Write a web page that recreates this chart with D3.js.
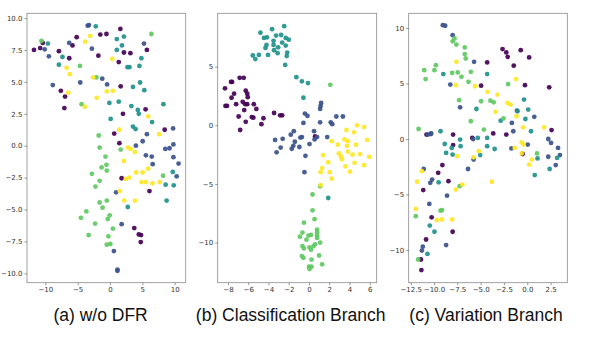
<!DOCTYPE html>
<html>
<head>
<meta charset="utf-8">
<script src="https://cdn.jsdelivr.net/npm/d3@7"></script>
<style>
  body { margin: 0; background: #fff; }
  .tick text { font-family: "DejaVu Sans", sans-serif; font-size: 7px; fill: #333; }
  .title { font-family: "Liberation Sans", Arial, sans-serif; font-size: 17.5px; fill: #111; }
</style>
</head>
<body>
<svg id="chart"></svg>
<script>
// class colours (viridis, 5 classes)
const classColors = ["#440154", "#3b528b", "#21918c", "#5ec962", "#fde725"];

// ---- (a) w/o DFR ----
const aPurple = [[-11.75,7.5],[-10.8,7.65],[-10.4,8.05],[-7.9,7.4],[-6.3,6.85],[-5.8,7.85],[-5.15,8.5],[-1.8,7.05],[-1.5,8.7],[-0.55,8.75],[1.6,9.15],[1.35,6.55],[2.15,7.3],[3.15,7.25],[5.7,7.5],[-7.6,4.3],[-6.95,3.85],[-7.05,2.95],[1.65,4.65],[2.0,2.5],[5.5,2.85],[0.65,0.95],[1.45,0.2],[8.45,1.25],[1.8,-2.55],[6.1,-3.55],[3.75,-6.45],[4.45,-6.95],[4.8,-7.0],[4.75,-7.55]];
const aBlue = [[-10.1,7.55],[-9.45,7.0],[-6.3,8.05],[-3.45,9.4],[-3.25,9.45],[-2.8,7.6],[-8.85,4.75],[-4.6,4.95],[-1.2,5.25],[-0.45,4.8],[5.25,8.0],[5.7,0.9],[5.05,0.35],[4.0,0.0],[5.55,-0.75],[6.45,-0.85],[6.6,-1.45],[8.55,-0.25],[9.2,-0.2],[9.75,1.35],[9.8,0.1],[9.8,-0.9],[10.6,-1.4],[10.3,-2.4],[0.95,-3.65],[1.8,-6.15],[0.6,-8.25],[1.15,-9.7],[1.15,-9.8]];
const aTeal = [[-9.6,8.0],[-7.9,6.35],[-7.35,6.95],[-2.2,9.35],[1.05,8.35],[2.15,8.55],[1.85,7.85],[1.05,7.5],[2.7,6.15],[3.0,6.15],[4.55,6.25],[4.85,6.85],[4.65,4.95],[3.55,4.6],[5.3,4.35],[-0.1,3.35],[1.35,3.45],[3.3,3.1],[4.3,2.8],[4.45,2.5],[0.1,2.1],[3.55,1.5],[3.95,1.3],[6.5,1.85],[8.25,3.25],[9.7,-2.05],[9.85,-3.1],[8.6,-3.05],[8.75,-4.3],[2.75,-4.8]];
const aGreen = [[-10.6,8.2],[-4.65,6.25],[-2.1,5.35],[-4.4,3.25],[-1.75,0.8],[-1.6,-0.15],[1.65,-0.3],[-0.7,-0.85],[-1.3,-1.7],[-0.55,-1.5],[-0.5,-1.95],[-2.8,-2.2],[-1.6,-2.75],[-2.25,-3.2],[-0.5,-4.3],[-1.6,-4.45],[-1.15,-4.85],[-3.65,-5.15],[-4.5,-5.65],[-0.05,-5.45],[-0.35,-5.75],[-2.3,-6.1],[0.45,-6.5],[-3.3,-7.0],[-0.25,-7.1],[0.05,-7.7],[-0.5,-7.75],[6.4,8.75],[8.2,-2.35]];
const aYellow = [[-3.05,8.6],[-3.85,8.15],[0.35,6.8],[-6.7,6.1],[-6.2,5.6],[-2.6,5.35],[-0.5,4.25],[0.45,4.3],[-6.45,4.15],[-2.05,3.75],[-3.9,3.05],[5.9,2.3],[7.6,0.9],[1.45,1.25],[2.75,-0.15],[3.2,-0.25],[3.85,-0.5],[2.15,-1.2],[5.9,-1.8],[4.05,-2.1],[5.05,-2.1],[2.45,-2.6],[3.0,-2.5],[4.85,-2.85],[5.55,-2.85],[6.55,-2.95],[7.7,-2.85],[1.5,-3.55],[2.2,-4.3],[3.85,-4.3]];

// ---- (b) Classification Branch ----
const bPurple = [[-7.6,3.7],[-7.7,3.7],[-6.85,4.05],[-6.45,4.05],[-8.3,3.15],[-7.4,2.7],[-7.65,2.35],[-6.25,2.95],[-6.1,2.7],[-6.05,2.4],[-7.2,1.8],[-8.25,1.65],[-8.1,1.65],[-6.55,2.0],[-6.3,1.8],[-6.1,1.8],[-5.45,1.8],[-6.4,1.3],[-5.2,1.4],[-6.95,0.75],[-5.65,0.7],[-5.5,0.65],[-4.5,0.6],[-6.25,0.3],[-4.7,0.1],[-6.8,-0.4],[-3.45,1.05],[-2.85,0.85],[-2.65,0.85],[0.6,-0.95]];
const bBlue = [[1.2,1.9],[1.15,1.65],[1.1,1.4],[-0.4,1.0],[-0.15,0.8],[2.7,0.75],[3.35,0.75],[-0.55,0.2],[1.1,0.25],[2.15,0.25],[2.3,0.1],[-1.5,-0.5],[-1.8,-0.8],[0.5,-0.5],[-2.6,-1.15],[-3.35,-1.25],[-0.85,-1.05],[-0.7,-1.0],[0.55,-1.2],[0.8,-1.0],[1.8,-1.0],[-1.4,-1.4],[0.05,-1.6],[-1.55,-1.75],[-1.7,-2.0],[-2.8,-1.9],[-0.95,-1.85],[-3.2,-2.3],[-0.35,-2.6],[-0.45,-4.0]];
const bTeal = [[-4.8,7.9],[-3.65,8.2],[-2.45,8.45],[-4.45,7.45],[-4.15,7.5],[-3.25,7.65],[-2.75,7.7],[-2.3,7.45],[-2.0,7.3],[-3.5,7.2],[-2.65,7.05],[-4.2,6.85],[-4.3,6.6],[-3.5,6.85],[-3.05,6.65],[-2.3,6.8],[-3.45,6.4],[-3.1,6.15],[-2.15,6.2],[-2.2,5.9],[-4.05,6.0],[-4.95,6.0],[-5.55,5.95],[-5.3,5.65],[-2.35,5.15],[-1.25,4.1],[-0.7,3.75],[-0.1,3.6],[-0.55,2.35],[1.9,-6.2]];
const bGreen = [[2.1,3.45],[1.1,-5.2],[0.35,-5.9],[0.35,-7.25],[0.55,-8.0],[-0.5,-8.3],[0.8,-8.9],[-0.65,-9.15],[0.8,-9.15],[-0.9,-9.5],[-0.25,-9.75],[-0.05,-9.4],[0.2,-9.35],[0.8,-9.4],[0.8,-9.6],[1.1,-10.0],[-0.65,-10.3],[-0.5,-10.5],[0.45,-10.3],[0.05,-10.4],[0.6,-10.15],[0.2,-10.6],[-0.7,-11.15],[-0.55,-11.3],[1.0,-11.1],[0.25,-11.45],[0.0,-12.05],[0.25,-12.05],[0.05,-12.25],[1.3,-11.85]];
const bYellow = [[2.25,-1.35],[2.85,-1.65],[3.7,-0.4],[4.75,0.0],[5.45,-0.15],[4.45,-0.6],[3.5,-1.2],[3.85,-1.35],[4.65,-1.65],[3.75,-1.75],[5.75,-1.25],[2.95,-2.4],[3.85,-2.25],[3.15,-2.65],[3.25,-2.9],[4.3,-2.5],[5.05,-2.45],[5.95,-2.7],[1.4,-2.55],[1.9,-3.15],[3.6,-3.5],[4.5,-3.2],[5.45,-3.4],[4.05,-3.95],[1.3,-3.65],[1.15,-4.0],[2.05,-4.0],[2.25,-4.55],[1.15,-5.1]];

// ---- (c) Variation Branch ----
const cPurple = [[-2.65,8.1],[-2.25,7.8],[-2.1,7.4],[-0.7,8.0],[0.2,7.35],[-4.3,6.9],[-1.45,6.6],[-4.95,4.8],[-0.25,4.85],[2.35,4.65],[2.6,0.8],[-3.65,0.5],[-2.25,0.4],[-5.9,0.1],[-7.95,0.4],[-7.95,-0.55],[-9.1,-2.35],[-9.55,-3.05],[-8.45,-3.8],[-11.15,-4.6],[-10.25,-7.05],[-8.0,-8.35],[-10.85,-9.05],[-11.4,-10.85],[-11.35,-11.8],[-0.5,-1.35],[-10.8,0.4]];
const cBlue = [[-9.05,10.25],[-8.8,10.2],[-8.0,9.35],[-8.25,4.9],[-5.7,6.95],[-7.2,2.85],[-10.65,0.4],[-10.35,0.45],[-10.3,0.5],[-5.8,0.0],[-5.75,-1.85],[-6.35,-2.7],[-11.1,-2.7],[-10.4,-3.95],[-10.2,-3.65],[-8.6,-5.1],[-10.5,-5.85],[-8.7,-9.55],[-11.2,-9.7],[-11.3,-10.05],[-1.65,1.45],[-1.5,0.7],[-1.1,2.55],[0.75,2.0],[-1.7,-0.85],[0.05,-0.5],[2.25,0.0],[2.55,-0.35],[3.3,-0.8],[3.5,-1.45],[2.25,-1.6],[3.05,-2.35]];
const cTeal = [[-9.0,5.85],[-4.3,5.85],[-5.45,2.7],[-2.85,1.65],[-9.3,0.7],[-7.2,-0.05],[-7.15,-0.65],[-8.85,-0.45],[-8.7,-1.25],[-8.1,-0.8],[-8.0,-1.4],[-5.3,0.1],[-4.3,0.1],[-4.3,-0.65],[-5.05,-1.45],[-3.5,-0.9],[-9.5,-3.9],[-10.45,-7.8],[-9.95,-8.35],[-10.7,-10.35],[-0.35,3.55],[-1.05,2.5],[0.1,2.65],[-0.2,1.8],[0.4,0.7],[1.1,-1.75],[2.4,-2.7],[3.2,-1.7],[0.8,-3.25]];
const cGreen = [[-8.0,8.8],[-7.8,9.05],[-7.6,8.5],[-6.7,8.25],[-6.7,7.65],[-6.6,7.25],[-11.05,6.2],[-9.8,6.65],[-9.95,6.2],[-10.9,5.4],[-8.05,5.95],[-7.45,6.0],[-6.05,6.05],[-7.05,5.6],[-6.3,5.15],[-7.3,3.5],[-4.95,3.4],[-3.95,3.45],[-3.6,3.3],[-6.05,1.6],[-4.65,0.85],[-11.65,0.9],[-2.05,4.95],[-2.55,1.85],[1.05,-1.3],[-9.15,-6.4],[-9.3,-6.45],[-11.95,-6.95],[-11.7,-10.85],[-7.25,-4.25]];
const cYellow = [[-7.6,6.95],[-7.65,4.85],[-5.6,4.75],[-4.25,4.25],[-3.2,4.0],[-3.4,2.45],[-2.1,3.25],[-1.8,3.1],[-1.2,5.4],[-1.15,2.05],[-0.45,1.05],[1.8,1.05],[-1.35,-0.8],[-0.6,-0.3],[-0.4,-0.5],[-0.6,-1.3],[0.2,-2.3],[0.5,-1.85],[-5.2,-1.1],[-5.75,-1.65],[-7.5,-1.55],[-11.3,-2.9],[-11.8,-3.85],[-3.8,-3.85],[-6.95,-4.1],[-7.65,-4.55],[-11.95,-6.3],[-9.7,-7.3],[-9.15,-7.25],[-8.05,-7.25]];

// tick values per panel
const aXTicks = [-10, -5, 0, 5, 10];
const aYTicks = [-10, -7.5, -5, -2.5, 0, 2.5, 5, 7.5, 10];
const bXTicks = [-8, -6, -4, -2, 0, 2, 4, 6];
const bYTicks = [-10, -5, 0, 5];
const cXTicks = [-12.5, -10, -7.5, -5, -2.5, 0, 2.5];
const cYTicks = [-10, -5, 0, 5, 10];

const titles = ["(a) w/o DFR", "(b) Classification Branch", "(c) Variation Branch"];

const W = 598, H = 340;
const svg = d3.select("#chart").attr("width", W).attr("height", H);

const panels = [
  {series: [aPurple, aBlue, aTeal, aGreen, aYellow], xd: [-12.83, 11.7], yd: [-10.73, 10.37],
   left: 27, right: 185.7, xt: aXTicks, yt: aYTicks, xf: d3.format("d"), yf: d3.format(".1f"), tx: 100.6},
  {series: [bPurple, bBlue, bTeal, bGreen, bYellow], xd: [-9.02, 6.69], yd: [-13.42, 9.55],
   left: 217.7, right: 376.7, xt: bXTicks, yt: bYTicks, xf: d3.format("d"), yf: d3.format("d"), tx: 290.7},
  {series: [cPurple, cBlue, cTeal, cGreen, cYellow], xd: [-12.71, 4.29], yd: [-12.94, 11.32],
   left: 408.7, right: 567.3, xt: cXTicks, yt: cYTicks, xf: d3.format(".1f"), yf: d3.format("d"), tx: 486}
];
const plotTop = 13.3, plotBottom = 282.7;

panels.forEach((p, i) => {
  const x = d3.scaleLinear().domain(p.xd).range([p.left, p.right]);
  const y = d3.scaleLinear().domain(p.yd).range([plotBottom, plotTop]);
  const g = svg.append("g");

  // points, class by class
  p.series.forEach((pts, k) => {
    g.append("g").selectAll("circle")
      .data(pts)
      .join("circle")
      .attr("cx", d => x(d[0]))
      .attr("cy", d => y(d[1]))
      .attr("r", 2.4)
      .attr("fill", classColors[k])
      .attr("fill-opacity", 0.92);
  });

  // frame
  g.append("rect")
    .attr("x", p.left).attr("y", plotTop)
    .attr("width", p.right - p.left).attr("height", plotBottom - plotTop)
    .attr("fill", "none").attr("stroke", "#8a8a8a").attr("stroke-width", 0.8);

  const xAxis = g.append("g")
    .attr("transform", `translate(0,${plotBottom})`)
    .call(d3.axisBottom(x).tickValues(p.xt).tickFormat(p.xf).tickSize(2.5).tickPadding(2));
  const yAxis = g.append("g")
    .attr("transform", `translate(${p.left},0)`)
    .call(d3.axisLeft(y).tickValues(p.yt).tickFormat(p.yf).tickSize(2.5).tickPadding(2));
  [xAxis, yAxis].forEach(a => {
    a.select(".domain").remove();
    a.selectAll(".tick line").attr("stroke", "#555").attr("stroke-width", 0.6);
  });

  svg.append("text")
    .attr("class", "title")
    .attr("x", p.tx).attr("y", 321)
    .attr("text-anchor", "middle")
    .text(titles[i]);
});
</script>
</body>
</html>
